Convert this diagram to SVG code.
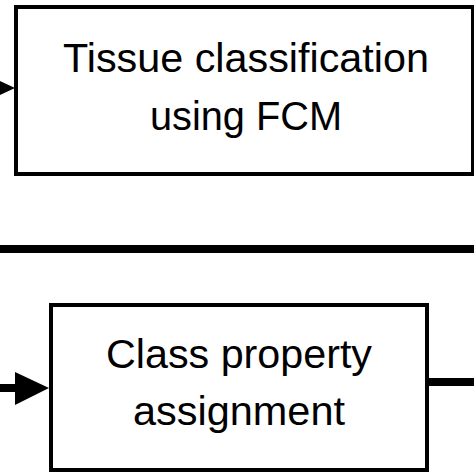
<svg xmlns="http://www.w3.org/2000/svg" width="474" height="474" viewBox="0 0 474 474">
<style>
.box{fill:#fff;stroke:#000;stroke-width:4}
.t{font-family:"Liberation Sans",Arial,sans-serif;font-size:40px;fill:#000;text-anchor:middle}
.ln{stroke:#000;stroke-width:8;fill:none}
</style>
<rect width="474" height="474" fill="#fff"/>
<g id="connectors">
<polygon points="0,81 15,88 0,95" fill="#000"/>
<line class="ln" x1="0" y1="249" x2="474" y2="249"/>
<line class="ln" x1="0" y1="388" x2="20" y2="388"/>
<polygon points="15,372 49,388 15,405" fill="#000"/>
<line class="ln" x1="428" y1="382" x2="474" y2="382"/>
</g>
<g id="node-tissue">
<rect class="box" x="16" y="7" width="457" height="167"/>
<text class="t" x="246" y="72" textLength="366" lengthAdjust="spacingAndGlyphs">Tissue classification</text>
<text class="t" x="246" y="130" textLength="192" lengthAdjust="spacingAndGlyphs">using FCM</text>
</g>
<g id="node-class">
<rect class="box" x="51" y="305" width="376" height="165"/>
<text class="t" x="239" y="368" textLength="266" lengthAdjust="spacingAndGlyphs">Class property</text>
<text class="t" x="239" y="425" textLength="212" lengthAdjust="spacingAndGlyphs">assignment</text>
</g>
</svg>
